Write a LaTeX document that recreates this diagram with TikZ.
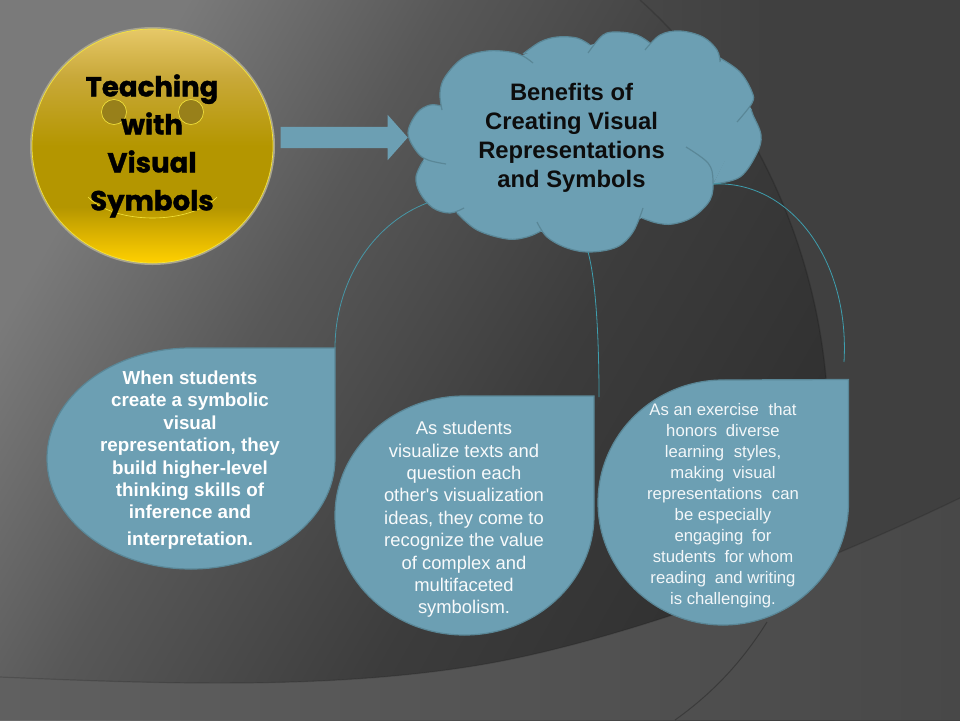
\documentclass[tikz,border=0pt]{standalone}
\usepackage{fontspec}
\usetikzlibrary{shapes.arrows,shapes.geometric}
\setmainfont{Liberation Sans}
\newfontfamily\titlefont[FakeBold=1.2]{Poppins Bold}
\definecolor{tealfill}{HTML}{6C9FB3}
\definecolor{tealedge}{HTML}{5A8797}
\definecolor{thread}{HTML}{3E9EAE}
\definecolor{goldA}{HTML}{FFD000}
\definecolor{goldB}{HTML}{E2B800}
\definecolor{goldC}{HTML}{B49600}
\definecolor{goldD}{HTML}{C9A93A}
\definecolor{goldE}{HTML}{E6C868}
\definecolor{eyefill}{HTML}{98801A}
\definecolor{halo}{HTML}{A8A490}
\definecolor{faceline}{HTML}{F5E53C}
\definecolor{bgA}{HTML}{747474}
\definecolor{bgB}{HTML}{525252}
\definecolor{bgC}{HTML}{404040}
\definecolor{inA}{HTML}{7A7A7A}
\definecolor{inB}{HTML}{585858}
\definecolor{inC}{HTML}{3C3C3C}
\definecolor{inD}{HTML}{313131}
\definecolor{bandA}{HTML}{606060}
\definecolor{bandB}{HTML}{484848}
\pgfdeclarehorizontalshading{basegrad}{100bp}{color(0bp)=(bgA); color(25bp)=(bgA); color(47bp)=(bgB); color(65bp)=(bgC); color(100bp)=(bgC)}
\pgfdeclarehorizontalshading{innergrad}{100bp}{color(0bp)=(inA); color(25bp)=(inA); color(38bp)=(inB); color(54bp)=(inC); color(68bp)=(inD); color(100bp)=(inD)}
\pgfdeclarehorizontalshading{bandgrad}{100bp}{color(0bp)=(bandA); color(25bp)=(bandA); color(75bp)=(bandB); color(100bp)=(bandB)}
\pgfdeclareverticalshading{goldgrad}{100bp}{color(0bp)=(goldA); color(25bp)=(goldA); color(30bp)=(goldB); color(37bp)=(goldC); color(50bp)=(goldC); color(65bp)=(goldD); color(75bp)=(goldE); color(100bp)=(goldE)}
\tikzset{
  drop/.style={fill=tealfill,draw=tealedge,line width=1.2pt},
  threadline/.style={draw=thread,line width=0.8pt},
  facefeature/.style={draw=faceline,line width=0.6pt},
  eyestyle/.style={circle,minimum size=25pt,inner sep=0pt,fill=eyefill,facefeature},
  lobefill/.style={fill=tealfill},
  lobestroke/.style={draw=tealedge,line width=1.2pt},
  whitebold/.style={text=white,align=center,inner sep=0pt,font=\bfseries\fontsize{18.8}{22.4}\selectfont},
  whitereg/.style={text=white!95!tealfill,align=center,inner sep=0pt,font=\fontsize{18.4}{22.4}\selectfont},
  whitesmall/.style={text=white!92!tealfill,align=center,inner sep=0pt,font=\fontsize{16.7}{21}\selectfont},
  title/.style={text=black,align=center,inner sep=0pt,font=\titlefont\fontsize{27.6}{38}\selectfont},
  cloudtitle/.style={text=black!95,align=center,inner sep=0pt,font=\bfseries\fontsize{23.8}{29}\selectfont}
}
\begin{document}
\begin{tikzpicture}[x=1pt,y=-1pt]
\useasboundingbox (0,0) rectangle (960,720);
% background
\shade[shading=basegrad] (0,0) rectangle (960,720);
\begin{scope}
  \clip (0,0) -- (640,0) .. controls (740,90) and (812,225) .. (826,378) -- (834,600) -- (834,720) -- (0,720) -- cycle;
  \shade[shading=innergrad,shading angle=-30] (0,0) rectangle (960,720);
\end{scope}
\draw[black,opacity=.15,line width=1.4pt] (640,0) .. controls (740,90) and (812,225) .. (826,378) -- (834,600);
\shade[shading=bandgrad] (0,677) .. controls (160,684) and (330,690) .. (480,665) .. controls (600,645) and (780,585) .. (960,498) -- (960,720) -- (0,720) -- cycle;
\draw[black,opacity=.15,line width=1.2pt] (0,677) .. controls (160,684) and (330,690) .. (480,665) .. controls (600,645) and (780,585) .. (960,498);
\draw[black,opacity=.25,line width=1pt] (767,622) .. controls (740,665) and (710,695) .. (675,720);
% gold circle
\node[ellipse,minimum width=241pt,minimum height=234pt,inner sep=0pt,shading=goldgrad,draw=faceline,line width=.7pt,
  preaction={draw=halo,line width=4pt}] (sun) at (152.5,146) {};
\node[eyestyle] (eyeL) at (114,112) {};
\node[eyestyle] (eyeR) at (191,112) {};
\draw[facefeature] (88,197) .. controls (115,225) and (190,225) .. (217,197);
\node[title] (suntext) at (152,146) {Teaching\\with\\Visual\\Symbols};
% block arrow
\node[single arrow,fill=tealfill,inner sep=0pt,text height=21pt,text depth=0pt,minimum height=127pt,
  single arrow head extend=12pt,single arrow head indent=0pt,single arrow tip angle=97] (bigarrow) at (339.5,137.5) {};
% cloud
\fill[tealfill] (441,108) -- (423,161) -- (457,213) -- (505,230) -- (545,232) -- (590,240) -- (642,218) -- (713,184) -- (752,110) -- (720,60) -- (680,40) -- (650,43) -- (618,38) -- (590,45) -- (557,42) -- (523,55) -- (487,60) -- cycle;
\foreach \cloudpass in {lobefill,lobestroke} {
  \path[\cloudpass] plot[smooth,tension=.6] coordinates {(441,106) (430,105) (417,113) (408,133) (417,152) (428,160) (446,164)};
  \path[\cloudpass] plot[smooth,tension=.6] coordinates {(423,161) (416,177) (420,193) (433,208) (450,213) (464,208)};
  \path[\cloudpass] plot[smooth,tension=.6] coordinates {(457,213) (477,230) (507,239) (527,237) (541,231)};
  \path[\cloudpass] plot[smooth,tension=.6] coordinates {(537,222) (547,237) (567,248) (590,252) (617,247) (633,232) (643,208)};
  \path[\cloudpass] plot[smooth,tension=.6] coordinates {(642,218) (657,223) (673,224) (693,217) (710,200) (713,180) (708,163) (686,147)};
  \path[\cloudpass] plot[smooth,tension=.6] coordinates {(713,184) (740,177) (757,153) (761,135) (753,115) (751,109)};
  \path[\cloudpass] plot[smooth,tension=.6] coordinates {(737,122) (752,103) (752,92) (740,72) (720,58)};
  \path[\cloudpass] plot[smooth,tension=.6] coordinates {(720,62) (717,50) (703,37) (680,31) (660,35) (645,50)};
  \path[\cloudpass] plot[smooth,tension=.6] coordinates {(650,43) (637,35) (618,32) (603,35) (588,53)};
  \path[\cloudpass] plot[smooth,tension=.6] coordinates {(590,45) (577,38) (557,37) (540,42) (523,54)};
  \path[\cloudpass] plot[smooth,tension=.6] coordinates {(533,63) (523,56) (510,52) (487,51) (463,58) (445,77) (440,93) (442,110)};
}
\node[cloudtitle] (cloudtext) at (571.5,138) {Benefits of\\Creating Visual\\Representations\\and Symbols};
% teardrops
\draw[drop] (335,348) -- (191,348) .. controls (111.5,348) and (47,397.5) .. (47,458.5) .. controls (47,519.5) and (111.5,569) .. (191,569) .. controls (270.5,569) and (335,519.5) .. (335,458.5) -- cycle;
\draw[drop] (594,396) -- (464.5,396) .. controls (393,396) and (335,449.5) .. (335,515.5) .. controls (335,581.5) and (393,635) .. (464.5,635) .. controls (536,635) and (594,581.5) .. (594,515.5) -- cycle;
\draw[drop] (848.5,379.5) -- (723,380) .. controls (654,380) and (598,434.8) .. (598,502.5) .. controls (598,570) and (654,625) .. (723,625) .. controls (792,625) and (848.5,570) .. (848.5,502.5) -- cycle;
\node[whitebold] (dropAtext) at (190,460) {When students\\create a symbolic\\visual\\representation, they\\build higher-level\\thinking skills of\\inference and\\[4pt]interpretation.};
\node[whitereg] (dropBtext) at (464,519.5) {As students\\visualize texts and\\question each\\other\textquotesingle s visualization\\ideas, they come to\\recognize the value\\of complex and\\multifaceted\\symbolism.};
\node[whitesmall] (dropCtext) at (723,505.5) {As an exercise\hspace{5pt} that\\honors\hspace{4pt} diverse\\learning\hspace{5pt} styles,\\making\hspace{4pt} visual\\representations\hspace{5pt} can\\be especially\\engaging\hspace{4pt} for\\students\hspace{4pt} for whom\\reading\hspace{4pt} and writing\\is challenging.};
% threads
\coordinate (cloudL) at (427,203);
\coordinate (cloudB) at (588,252);
\coordinate (cloudR) at (713,184);
\coordinate (dropAc) at (335,348);
\coordinate (dropBc) at (599,397);
\coordinate (dropCe) at (844,362);
\draw[threadline,draw=thread!70!tealedge] (cloudL) .. controls (370,225) and (335,285) .. (dropAc);
\draw[threadline] (cloudB) .. controls (596,280) and (599,340) .. (dropBc);
\draw[threadline] (cloudR) .. controls (790,180) and (850,260) .. (dropCe);
\end{tikzpicture}
\end{document}
